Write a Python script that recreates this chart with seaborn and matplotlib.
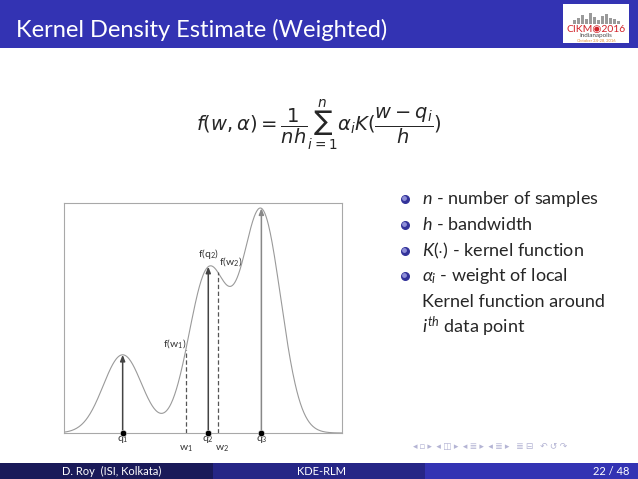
import numpy as np
import seaborn as sns
import matplotlib.pyplot as plt
from matplotlib.patches import Rectangle

# kernel centres (x as % of the plot width), their weights and the bandwidth
q = [21.1, 51.9, 71.0]
alpha = [0.17, 0.35, 0.48]
h = 7.0
q_labels = ["q$_1$", "q$_2$", "q$_3$"]

# query points
w = [43.8, 55.3]
w_labels = ["w$_1$", "w$_2$"]

title = "Kernel Density Estimate (Weighted)"
formula = r"$f(w,\alpha) = \dfrac{1}{nh}\sum_{i=1}^{n}\alpha_i K(\dfrac{w-q_i}{h})$"
bullets = [r"$n$ - number of samples", r"$h$ - bandwidth",
           r"$K(\cdot)$ - kernel function", r"$\alpha_i$ - weight of local"]
bullet_more = ["Kernel function around", r"$i^{th}$ data point"]
footer = ["D. Roy  (ISI, Kolkata)", "KDE-RLM", "22 / 48"]
footer_colors = ["#1a1a59", "#262686", "#3333b3"]

sns.set_theme(style="white")
plt.rcParams["font.family"] = ["Lato", "DejaVu Sans"]
plt.rcParams["mathtext.fontset"] = "custom"
plt.rcParams["mathtext.rm"] = "Lato"
plt.rcParams["mathtext.it"] = "Lato:italic"
plt.rcParams["mathtext.bf"] = "Lato:bold"

fig = plt.figure(figsize=(6.38, 4.79), dpi=100)

# page layer in pixel coordinates
bg = fig.add_axes([0, 0, 1, 1])
bg.set_xlim(0, 638)
bg.set_ylim(479, 0)
bg.axis("off")

# title bar + logo
bg.add_patch(Rectangle((0, 0), 638, 47.5, color="#3333b3", lw=0))
bg.text(16, 36.5, title, color="white", fontsize=17, va="baseline")
bg.add_patch(Rectangle((563, 4), 66, 39, color="white", lw=0))
skyline = [4, 6, 9, 5, 11, 7, 4, 8, 10, 6, 5, 3]
for i, sh in enumerate(skyline):
    bg.add_patch(Rectangle((573 + i * 4, 24 - sh), 3, sh, color="#9a9a9a", lw=0))
bg.text(596, 29, "CIKM◉2016", color="#d2232a", fontsize=7.5, ha="center", va="center")
bg.text(596, 35.5, "Indianapolis", color="#4a4a4a", fontsize=4.5, ha="center", va="center")
bg.text(596, 40, "October 24-28, 2016", color="#e08a2c", fontsize=3, ha="center", va="center")

# formula
bg.text(318.5, 125, formula, fontsize=14, ha="center", va="center",
        math_fontfamily="dejavusans")

# bullet list
for i, txt in enumerate(bullets):
    y = 199 + i * 25.8
    bg.scatter(405, y, s=30, color="#33339a", zorder=3)
    bg.scatter(404, y - 1, s=6, color="#8f8fd8", zorder=4)
    bg.text(422, y, txt, fontsize=13, va="center")
for i, txt in enumerate(bullet_more):
    bg.text(422, 302 + i * 25, txt, fontsize=13, va="center")

# navigation symbols
bg.text(413, 446, "◂ □ ▸  ◂ ◫ ▸  ◂ ≣ ▸  ◂ ≣ ▸   ≣ ⊟   ↶ ↺ ↷",
        fontsize=6.5, color="#b4b4d4", va="center")

# footline
for i, (txt, col) in enumerate(zip(footer, footer_colors)):
    bg.add_patch(Rectangle((i * 638 / 3, 463), 638 / 3, 16, color=col, lw=0))
bg.text(112, 471.5, footer[0], color="white", fontsize=8, ha="center", va="center")
bg.text(322, 471.5, footer[1], color="white", fontsize=8, ha="center", va="center")
bg.text(629, 471.5, footer[2], color="white", fontsize=8, ha="right", va="center")

# density plot
ax = fig.add_axes([64 / 638, 1 - 433 / 479, 278 / 638, 230 / 479])
bw = h / np.sqrt(np.cov(q, aweights=alpha))
sns.kdeplot(x=q, weights=alpha, bw_method=bw, cut=5, gridsize=600,
            color="#9a9a9a", lw=0.8, ax=ax)
xs, ys = ax.lines[0].get_data()
fq = np.interp(q, xs, ys)
fw = np.interp(w, xs, ys)
ax.set_xlim(0, 100)
ax.set_ylim(0, ys.max() * 230 / 225)
ax.set_xticks([])
ax.set_yticks([])
ax.set_ylabel("")
for s in ax.spines.values():
    s.set_color("#a8a8a8")
    s.set_linewidth(0.8)

arrow_colors = ["#444444", "#444444", "#888888"]
for qi, fi, c in zip(q, fq, arrow_colors):
    ax.annotate("", xy=(qi, fi), xytext=(qi, 0),
                arrowprops=dict(arrowstyle="-|>,head_length=0.3,head_width=0.12",
                                color=c, lw=1.1, shrinkA=0, shrinkB=0))
ax.vlines(w, 0, fw, colors="#555555", linestyles=(0, (3.5, 2)), lw=0.9)
sns.scatterplot(x=q, y=[0] * len(q), s=22, color="black", ax=ax,
                zorder=5, clip_on=False, legend=False)

lab_kw = dict(textcoords="offset points", ha="center", va="center",
              fontsize=7.5, color="#333333")
for qi, lab in zip(q, q_labels):
    ax.annotate(lab, (qi, 0), xytext=(0, -4.5), **lab_kw)
ax.annotate(w_labels[0], (w[0], 0), xytext=(0, -11.5), **lab_kw)
ax.annotate(w_labels[1], (w[1], 0), xytext=(3, -11.5), **lab_kw)
ax.annotate("f(q$_2$)", (q[1], fq[1]), xytext=(0.5, 9), **lab_kw)
ax.annotate("f(w$_2$)", (w[1], fw[1]), xytext=(9, 7.7), **lab_kw)
ax.annotate("f(w$_1$)", (w[0], fw[0]), xytext=(-7.7, 4.7), **lab_kw)

fig.savefig("out.png", dpi=100)
